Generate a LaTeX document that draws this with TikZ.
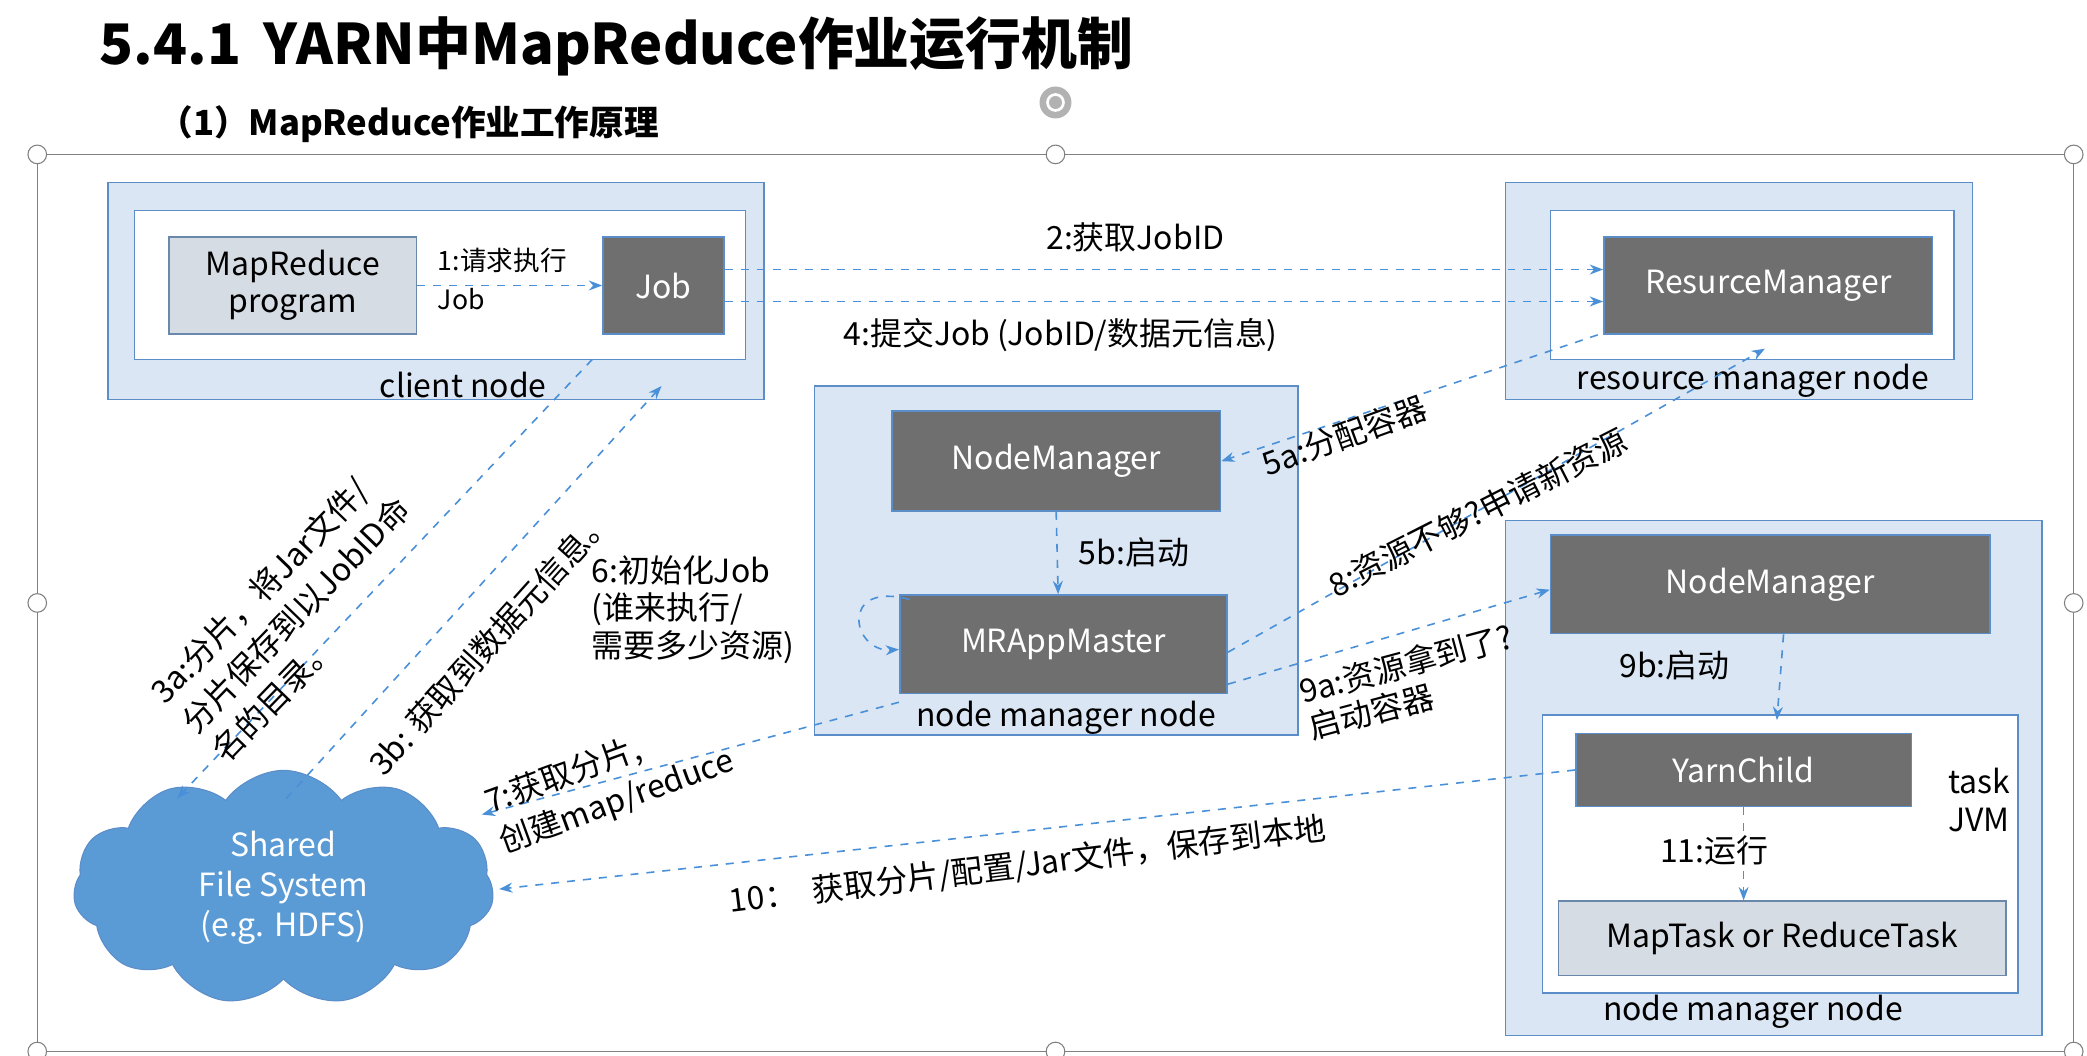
\documentclass[tikz,border=0pt]{standalone}
\usepackage{fontspec}
\setmainfont{Noto Sans CJK SC}
\usetikzlibrary{shapes.symbols,arrows.meta}
\definecolor{lb}{HTML}{DAE6F3}
\definecolor{bd}{HTML}{5B8DC8}
\definecolor{ar}{HTML}{4A90D9}
\definecolor{dk}{HTML}{6F6F6F}
\definecolor{gl}{HTML}{D6DCE4}
\definecolor{cl}{HTML}{5B9BD5}
\tikzset{
 outer/.style={draw=bd,fill=lb,line width=0.6pt},
 inner/.style={draw=bd,fill=white,line width=0.6pt},
 dkbox/.style={draw=bd,fill=dk,text=white,font=\fontsize{12}{14}\selectfont,line width=0.6pt},
 ltbox/.style={draw=bd!60!gray,fill=gl,font=\fontsize{12}{14}\selectfont,line width=0.6pt},
 lbl/.style={font=\fontsize{12}{14}\selectfont,inner sep=1pt},
 arr/.style={draw=ar,dashed,line width=0.6pt,-{Stealth[length=5pt]}},
 handle/.style={circle,draw=gray,fill=white,minimum size=7pt,inner sep=0pt}
}
\begin{document}
\begin{tikzpicture}[x=0.5pt,y=-0.5pt]
\useasboundingbox (0,0) rectangle (1568,793);
\node[anchor=west,font=\bfseries\fontsize{21}{26}\selectfont] (title) at (68,35) {5.4.1\, YARN中MapReduce作业运行机制};
\node[anchor=west,font=\bfseries\fontsize{13}{16}\selectfont] (sub) at (112,93) {（1）MapReduce作业工作原理};
% selection frame
\draw[gray,line width=0.4pt] (28,116) rectangle (1558,790);
\foreach \p/\n in {{28,116}/h1,{793,116}/h2,{1558,116}/h3,{28,453}/h4,{1558,453}/h5,{28,790}/h6,{793,790}/h7,{1558,790}/h8}
  \node[handle] (\n) at (\p) {};
\node[circle,fill=gray!60,minimum size=12pt,inner sep=0pt] (rot) at (793,77) {};
\node[circle,draw=white,line width=1pt,minimum size=6pt,inner sep=0pt] (rot2) at (793,77) {};
% client
\draw[outer] (81,137) rectangle (574,300);
\draw[inner] (101,158) rectangle (560,270);
\node[ltbox,minimum width=93pt,minimum height=36.5pt,align=center] (mr) at (220,214.5) {MapReduce\\program};
\node[dkbox,minimum width=45.5pt,minimum height=36.5pt] (job) at (498.5,214.5) {Job};
\node[lbl] (cn) at (348,289) {client node};
% RM
\draw[outer] (1131,137) rectangle (1482,300);
\draw[inner] (1165,158) rectangle (1468,270);
\node[dkbox,minimum width=123.5pt,minimum height=36.5pt] (rm) at (1328.5,214.5) {ResurceManager};
\node[lbl] (rmn) at (1317,286) {resource manager node};
% middle NM
\draw[outer] (612,290) rectangle (975,552);
\node[dkbox,minimum width=123.5pt,minimum height=37.5pt] (nm1) at (793.5,346.5) {NodeManager};
\node[dkbox,minimum width=123pt,minimum height=37pt] (mra) at (799,484) {MRAppMaster};
\node[lbl] (nmn1) at (801,539) {node manager node};
% right NM
\draw[outer] (1131,391) rectangle (1534,778);
\node[dkbox,minimum width=165pt,minimum height=37pt] (nm2) at (1330,439) {NodeManager};
\draw[inner] (1159,537) rectangle (1516,746);
\node[dkbox,minimum width=126pt,minimum height=27.5pt] (yc) at (1310,578.5) {YarnChild};
\node[ltbox,minimum width=168pt,minimum height=28pt] (mt) at (1339,705) {MapTask or ReduceTask};
\node[lbl,align=left] (tj) at (1487,601) {task\\JVM};
\node[lbl] (nmn2) at (1317,760) {node manager node};
% cloud
\node[cloud,cloud puffs=11,cloud puff arc=110,aspect=2.1,draw=bd,fill=cl,text=white,minimum width=158pt,minimum height=78pt,align=center,font=\fontsize{12}{15}\selectfont] (fs) at (213,667) {Shared\\File System\\(e.g. HDFS)};
% arrows
\draw[arr] (mr.east) -- (job.west);
\node[font=\fontsize{10}{12}\selectfont,anchor=west] (l1a) at (322,196) {1:请求执行};
\node[font=\fontsize{10}{12}\selectfont,anchor=west] (l1b) at (322,225) {Job};
\draw[arr] ([yshift=6pt]job.east) -- ([yshift=6pt]rm.west);
\node[lbl] (l2) at (853,178) {2:获取JobID};
\draw[arr] ([yshift=-6pt]job.east) -- ([yshift=-6pt]rm.west);
\node[lbl] (l4) at (797,252) {4:提交Job (JobID/数据元信息)};
\draw[arr] ([xshift=-2pt]rm.south west) -- (nm1.east);
\node[lbl,rotate=20] (l5a) at (1010,327) {5a:分配容器};
\draw[arr] (nm1.south) -- ([xshift=-2pt]mra.north);
\node[lbl] (l5b) at (852,415) {5b:启动};
\draw[arr] ([xshift=4pt,yshift=-2pt]mra.north west) .. controls (630,436) and (640,490) .. ([yshift=-2pt]mra.west);
\node[lbl,align=left,anchor=west] (l6) at (442,458) {6:初始化Job\\(谁来执行/\\需要多少资源)};
\draw[arr] ([yshift=-3pt]mra.east) -- (1326,262);
\node[lbl,rotate=27] (l8) at (1110,385) {8:资源不够?申请新资源};
\draw[arr] ([yshift=-15pt]mra.east) -- ([yshift=-2pt]nm2.west);
\node[lbl,rotate=15,align=left] (l9a) at (1060,512) {9a:资源拿到了?\\启动容器};
\draw[arr] ([xshift=5pt]nm2.south) -- (1335,541);
\node[lbl] (l9b) at (1258,500) {9b:启动};
\draw[arr] (yc.south) -- (mt.north-|yc.south);
\node[lbl] (l11) at (1288,639) {11:运行};
\draw[arr] (yc.west) -- (375,668);
\node[lbl,rotate=7] (l10) at (772,650) {10：\; 获取分片/配置/Jar文件，保存到本地};
\draw[arr] (445,270) -- (133,600);
\node[lbl,rotate=46,align=left,font=\fontsize{12}{16}\selectfont] (l3a) at (222,462) {3a:分片，将Jar文件/\\分片保存到以JobID命\\名的目录。};
\draw[arr] (215,600) -- (497,290);
\node[lbl,rotate=48] (l3b) at (368,482) {3b: 获取到数据元信息。};
\draw[arr] ([yshift=-3pt]mra.south west) -- (362,612);
\node[lbl,rotate=20,align=left,font=\fontsize{12}{16}\selectfont] (l7) at (458,588) {7:获取分片,\\创建map/reduce};
\end{tikzpicture}
\end{document}
